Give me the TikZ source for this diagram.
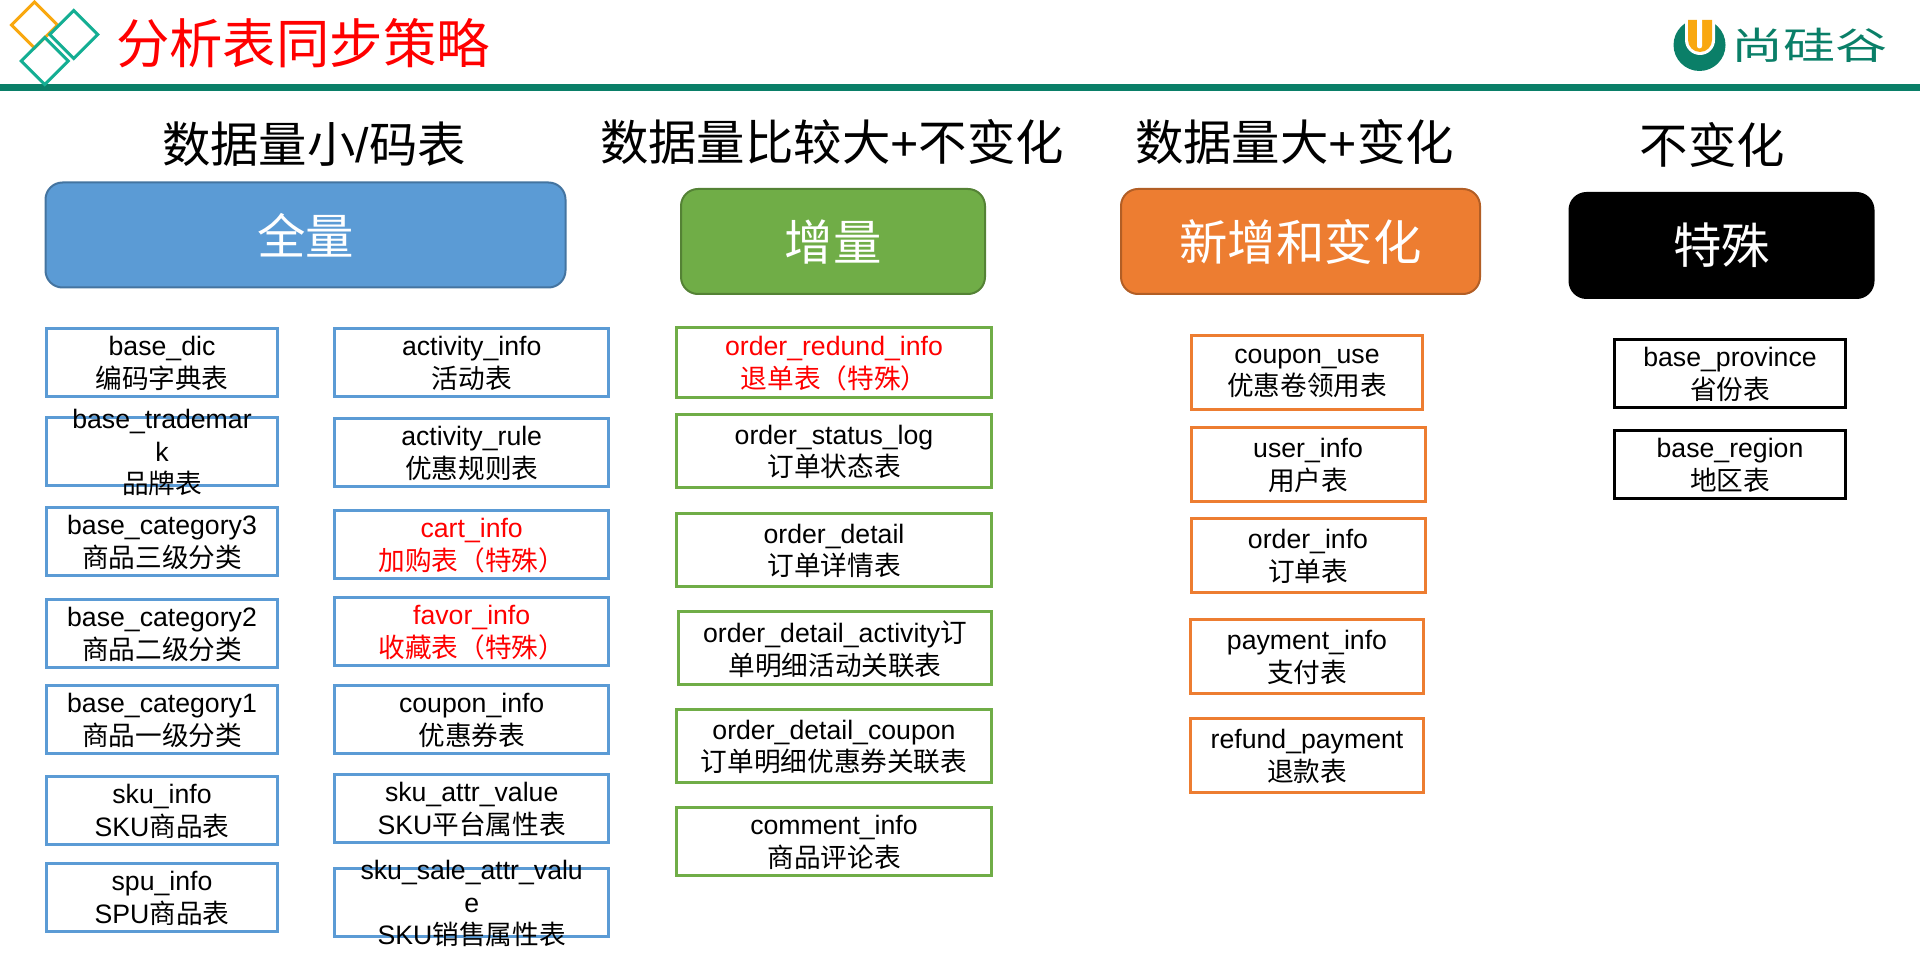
\documentclass[tikz,border=0pt]{standalone}
\usepackage{fontspec}
\usepackage{xcolor}
\usetikzlibrary{calc,positioning}
\setmainfont{Liberation Sans}
\newfontfamily\cjk{Noto Sans CJK SC}
\newcommand{\zh}[1]{\raisebox{0pt}[\height][0pt]{\cjk #1}}
\definecolor{barcol}{HTML}{0A7F68}
\definecolor{tealcol}{HTML}{14AE93}
\definecolor{ambercol}{HTML}{F9A80F}
\definecolor{bluecol}{HTML}{5B9BD5}
\definecolor{greencol}{HTML}{70AD47}
\definecolor{orangecol}{HTML}{ED7D31}
\tikzset{
	tbl/.style = {draw, line width=1.5pt, inner sep=0pt, align=center, font=\fontsize{13.33}{16.3}\selectfont},
	tbltext/.style = {inner sep=0pt, align=center, font=\fontsize{13.33}{16.3}\selectfont},
	bluetbl/.style = {tbl, draw=bluecol, minimum width=115.5pt, minimum height=34pt},
	widetbl/.style = {tbl, draw=bluecol, minimum width=137pt, minimum height=34pt},
	greentbl/.style = {tbl, draw=greencol, minimum width=157.5pt, minimum height=36.5pt},
	orangetbl/.style = {tbl, draw=orangecol, minimum width=117pt, minimum height=37pt},
	blacktbl/.style = {tbl, draw=black, minimum width=115.5pt, minimum height=34pt},
	head/.style = {font=\fontsize{24.2}{28}\selectfont\cjk, inner sep=0pt},
	kind/.style = {draw, line width=1pt, rounded corners=8.5pt, text=white, font=\fontsize{24.2}{28}\selectfont\cjk},
	gem/.style = {line width=1.5pt, draw=tealcol},
}
\begin{document}
\begin{tikzpicture}[x=0.5pt, y=-0.5pt]
	\useasboundingbox (0,0) rectangle (1920,962);
	% top banner
	\fill[barcol] (0,84.5) rectangle (1920,91.5);
	\draw[gem, draw=ambercol] (34.5,2) -- (57.5,25) -- (34.5,48) -- (11.5,25) -- cycle;
	\draw[gem] (73.7,10.5) -- (97.7,34.5) -- (73.7,58.5) -- (49.7,34.5) -- cycle;
	\draw[gem] (44.8,37.5) -- (68.3,61) -- (44.8,84.5) -- (21.3,61) -- cycle;
	\node[font=\fontsize{26.7}{30}\selectfont\cjk, text=red, inner sep=0pt] (title) at (303,43) {分析表同步策略};
	% logo
	\fill[barcol] (1699.5,45) circle (26);
	\fill[white] (1685,10) -- (1715,10) -- (1715,40) arc (0:180:15) -- cycle;
	\fill[ambercol] (1688,20) -- (1712,20) -- (1712,40) arc (0:180:12) -- cycle;
	\fill[white] (1697,15) -- (1702,15) -- (1702,46) arc (0:180:2.5) -- cycle;
	\node[font=\fontsize{26}{28}\selectfont\cjk, text=barcol, inner sep=0pt, yscale=0.72, transform shape] (brand) at (1809.5,45.5) {尚硅谷};
	% column titles
	\node[head] (smallhead) at (314,144) {数据量小{\rmfamily /}码表};
	\node[head] (slowhead) at (832,142) {数据量比较大{\rmfamily +}不变化};
	\node[head] (bighead) at (1294.5,142) {数据量大{\rmfamily +}变化};
	\node[head] (fixedhead) at (1712.5,145) {不变化};
	\node[kind, fill=bluecol, draw=bluecol!75!black, minimum width=260pt, minimum height=52.5pt] (full) at (305.5,235) {全量};
	\node[kind, fill=greencol, draw=greencol!75!black, minimum width=152pt, minimum height=52.5pt] (incr) at (833,241.5) {增量};
	\node[kind, fill=orangecol, draw=orangecol!75!black, minimum width=179.5pt, minimum height=52.5pt] (change) at (1300.5,241.5) {新增和变化};
	\node[kind, fill=black, draw=black, minimum width=152pt, minimum height=52.5pt] (special) at (1721.5,245.5) {特殊};
	% full tables
	\node[bluetbl] (base_dic) at (162,362.5) {base\_dic\\\zh{编码字典表}};
	\node[bluetbl] (base_trademark) [below=9pt of base_dic] {};
	\node[tbltext] (trademark_text) at (base_trademark) {base\_trademar\\k\\\zh{品牌表}};
	\node[bluetbl] (base_category3) [below=9.5pt of base_trademark] {base\_category3\\\zh{商品三级分类}};
	\node[bluetbl] (base_category2) [below=10.5pt of base_category3] {base\_category2\\\zh{商品二级分类}};
	\node[bluetbl] (base_category1) [below=7.5pt of base_category2] {base\_category1\\\zh{商品一级分类}};
	\node[bluetbl] (sku_info) [below=10pt of base_category1] {sku\_info\\SKU\zh{商品表}};
	\node[bluetbl] (spu_info) [below=8pt of sku_info] {spu\_info\\SPU\zh{商品表}};
	\node[widetbl] (activity_info) at (471.7,362.5) {activity\_info\\\zh{活动表}};
	\node[widetbl] (activity_rule) [below=9.5pt of activity_info] {activity\_rule\\\zh{优惠规则表}};
	\node[widetbl, text=red] (cart_info) [below=10.5pt of activity_rule] {cart\_info\\\zh{加购表（特殊）}};
	\node[widetbl, text=red] (favor_info) [below=8pt of cart_info] {favor\_info\\\zh{收藏表（特殊）}};
	\node[widetbl] (coupon_info) [below=8.5pt of favor_info] {coupon\_info\\\zh{优惠券表}};
	\node[widetbl] (sku_attr_value) [below=9pt of coupon_info] {sku\_attr\_value\\SKU\zh{平台属性表}};
	\node[widetbl] (sku_sale_attr_value) [below=11.5pt of sku_attr_value] {};
	\node[tbltext] (sale_attr_text) at (sku_sale_attr_value) {sku\_sale\_attr\_valu\\e\\SKU\zh{销售属性表}};
	% incremental tables
	\node[greentbl, text=red, minimum height=35pt] (order_refund_info) at (834,362.5) {order\_redund\_info\\\zh{退单表（特殊）}};
	\node[greentbl] (order_status_log) [below=7pt of order_refund_info] {order\_status\_log\\\zh{订单状态表}};
	\node[greentbl] (order_detail) [below=11.5pt of order_status_log] {order\_detail\\\zh{订单详情表}};
	\node[greentbl, minimum width=156.5pt, xshift=0.5pt] (order_detail_activity) [below=11pt of order_detail] {order\_detail\_activity\zh{订}\\\zh{单明细活动关联表}};
	\node[greentbl, xshift=-0.5pt] (order_detail_coupon) [below=11pt of order_detail_activity] {order\_detail\_coupon\\\zh{订单明细优惠券关联表}};
	\node[greentbl, minimum height=34pt] (comment_info) [below=11pt of order_detail_coupon] {comment\_info\\\zh{商品评论表}};
	% new and changed tables
	\node[orangetbl, minimum width=115.5pt] (coupon_use) at (1307,372.5) {coupon\_use\\\zh{优惠卷领用表}};
	\node[orangetbl, xshift=0.5pt] (user_info) [below=7.5pt of coupon_use] {user\_info\\\zh{用户表}};
	\node[orangetbl] (order_info) [below=7pt of user_info] {order\_info\\\zh{订单表}};
	\node[orangetbl, minimum width=116.5pt, xshift=-0.5pt] (payment_info) [below=12pt of order_info] {payment\_info\\\zh{支付表}};
	\node[orangetbl, minimum width=116.5pt] (refund_payment) [below=11pt of payment_info] {refund\_payment\\\zh{退款表}};
	% special tables
	\node[blacktbl] (base_province) at (1730,373.5) {base\_province\\\zh{省份表}};
	\node[blacktbl] (base_region) [below=10pt of base_province] {base\_region\\\zh{地区表}};
\end{tikzpicture}
\end{document}
